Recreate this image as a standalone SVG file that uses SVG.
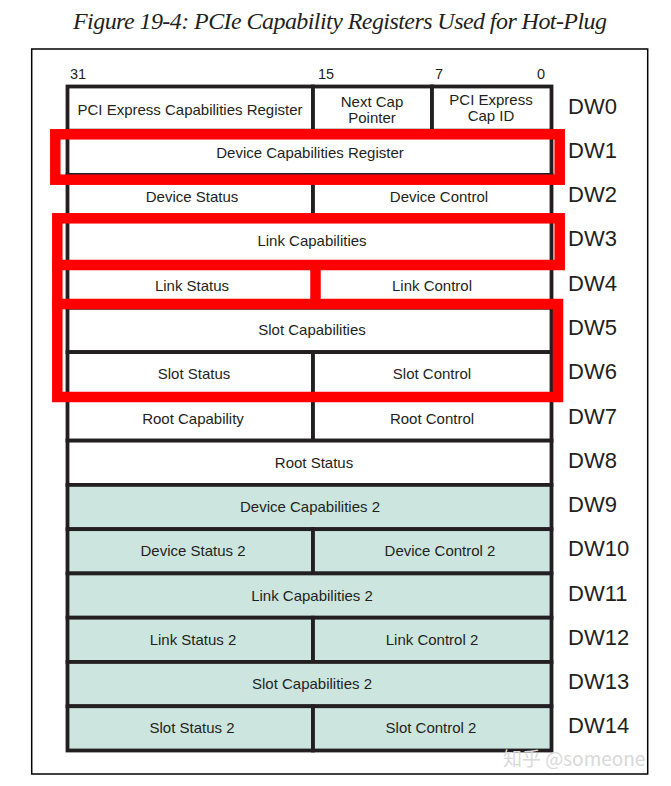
<svg xmlns="http://www.w3.org/2000/svg" width="671" height="786" viewBox="0 0 671 786">
<style>
.cell{fill:#ffffff;stroke:#231f20;stroke-width:3.8}
.teal{fill:#cce6df;stroke:#231f20;stroke-width:3.8}
.t{font-family:"Liberation Sans",Arial,sans-serif;font-size:15px;fill:#231f20;text-anchor:middle}
.dw{font-family:"Liberation Sans",Arial,sans-serif;font-size:22px;fill:#231f20}
.bit{font-family:"Liberation Sans",Arial,sans-serif;font-size:14.5px;fill:#231f20}
.hl{fill:none;stroke:#ff0000;stroke-width:10.5}
</style>
<rect width="671" height="786" fill="#ffffff"/>
<text x="340" y="29" font-family="'Liberation Serif','Times New Roman',serif" font-style="italic" font-size="24" fill="#231f20" text-anchor="middle" textLength="534">Figure 19-4: PCIe Capability Registers Used for Hot-Plug</text>
<rect x="31.7" y="49" width="616" height="725" fill="none" stroke="#000" stroke-width="1.5"/>
<g id="bits">
<text class="bit" x="70" y="79">31</text>
<text class="bit" x="318" y="79">15</text>
<text class="bit" x="435" y="79">7</text>
<text class="bit" x="537" y="79">0</text>
</g>
<g id="dw0">
<rect class="cell" x="67.5" y="86.5" width="245.5" height="44.27"/>
<rect class="cell" x="313" y="86.5" width="119" height="44.27"/>
<rect class="cell" x="432" y="86.5" width="119.5" height="44.27"/>
<text class="t" x="190" y="115">PCI Express Capabilities Register</text>
<text class="t" x="372" y="107">Next Cap</text>
<text class="t" x="372" y="123">Pointer</text>
<text class="t" x="491" y="105">PCI Express</text>
<text class="t" x="491" y="121">Cap ID</text>
<text class="dw" x="568" y="113.6">DW0</text>
</g>
<g id="dw1">
<rect class="cell" x="67.5" y="130.77" width="484" height="44.27"/>
<text class="t" x="310" y="157.9">Device Capabilities Register</text>
<text class="dw" x="568" y="157.9">DW1</text>
</g>
<g id="dw2">
<rect class="cell" x="67.5" y="175.03" width="245.5" height="44.27"/>
<rect class="cell" x="313" y="175.03" width="238.5" height="44.27"/>
<text class="t" x="192" y="202.2">Device Status</text>
<text class="t" x="439" y="202.2">Device Control</text>
<text class="dw" x="568" y="202.2">DW2</text>
</g>
<g id="dw3">
<rect class="cell" x="67.5" y="219.3" width="484" height="44.27"/>
<text class="t" x="312" y="246.4">Link Capabilities</text>
<text class="dw" x="568" y="246.4">DW3</text>
</g>
<g id="dw4">
<rect class="cell" x="67.5" y="263.57" width="245.5" height="44.27"/>
<rect class="cell" x="313" y="263.57" width="238.5" height="44.27"/>
<text class="t" x="192" y="290.7">Link Status</text>
<text class="t" x="432" y="290.7">Link Control</text>
<text class="dw" x="568" y="290.7">DW4</text>
</g>
<g id="dw5">
<rect class="cell" x="67.5" y="307.83" width="484" height="44.27"/>
<text class="t" x="312" y="335">Slot Capabilities</text>
<text class="dw" x="568" y="335">DW5</text>
</g>
<g id="dw6">
<rect class="cell" x="67.5" y="352.1" width="245.5" height="44.27"/>
<rect class="cell" x="313" y="352.1" width="238.5" height="44.27"/>
<text class="t" x="194" y="379.2">Slot Status</text>
<text class="t" x="432" y="379.2">Slot Control</text>
<text class="dw" x="568" y="379.2">DW6</text>
</g>
<g id="dw7">
<rect class="cell" x="67.5" y="396.37" width="245.5" height="44.27"/>
<rect class="cell" x="313" y="396.37" width="238.5" height="44.27"/>
<text class="t" x="193" y="423.5">Root Capability</text>
<text class="t" x="432" y="423.5">Root Control</text>
<text class="dw" x="568" y="423.5">DW7</text>
</g>
<g id="dw8">
<rect class="cell" x="67.5" y="440.63" width="484" height="44.27"/>
<text class="t" x="314" y="467.8">Root Status</text>
<text class="dw" x="568" y="467.8">DW8</text>
</g>
<g id="dw9">
<rect class="teal" x="67.5" y="484.9" width="484" height="44.27"/>
<text class="t" x="310" y="512">Device Capabilities 2</text>
<text class="dw" x="568" y="512">DW9</text>
</g>
<g id="dw10">
<rect class="teal" x="67.5" y="529.17" width="245.5" height="44.27"/>
<rect class="teal" x="313" y="529.17" width="238.5" height="44.27"/>
<text class="t" x="193" y="556.3">Device Status 2</text>
<text class="t" x="440" y="556.3">Device Control 2</text>
<text class="dw" x="568" y="556.3">DW10</text>
</g>
<g id="dw11">
<rect class="teal" x="67.5" y="573.43" width="484" height="44.27"/>
<text class="t" x="312" y="600.6">Link Capabilities 2</text>
<text class="dw" x="568" y="600.6">DW11</text>
</g>
<g id="dw12">
<rect class="teal" x="67.5" y="617.7" width="245.5" height="44.27"/>
<rect class="teal" x="313" y="617.7" width="238.5" height="44.27"/>
<text class="t" x="193" y="644.8">Link Status 2</text>
<text class="t" x="432" y="644.8">Link Control 2</text>
<text class="dw" x="568" y="644.8">DW12</text>
</g>
<g id="dw13">
<rect class="teal" x="67.5" y="661.97" width="484" height="44.27"/>
<text class="t" x="312" y="689.1">Slot Capabilities 2</text>
<text class="dw" x="568" y="689.1">DW13</text>
</g>
<g id="dw14">
<rect class="teal" x="67.5" y="706.23" width="245.5" height="44.27"/>
<rect class="teal" x="313" y="706.23" width="238.5" height="44.27"/>
<text class="t" x="192" y="733.4">Slot Status 2</text>
<text class="t" x="431" y="733.4">Slot Control 2</text>
<text class="dw" x="568" y="733.4">DW14</text>
</g>
<g id="highlights">
<rect class="hl" x="55.3" y="134.3" width="504.4" height="45.4"/>
<rect class="hl" x="57.3" y="218.3" width="502.4" height="46.7"/>
<rect class="hl" x="57.3" y="304" width="500.7" height="93"/>
<line class="hl" x1="57.3" y1="260" x2="57.3" y2="309"/>
<line class="hl" x1="315.5" y1="260" x2="315.5" y2="309" stroke-width="9"/>
</g>
<text x="503" y="766" font-family="'Noto Sans CJK SC','Liberation Sans',sans-serif" font-size="19" fill="#d9d9d9">知乎 @someone</text>
</svg>
